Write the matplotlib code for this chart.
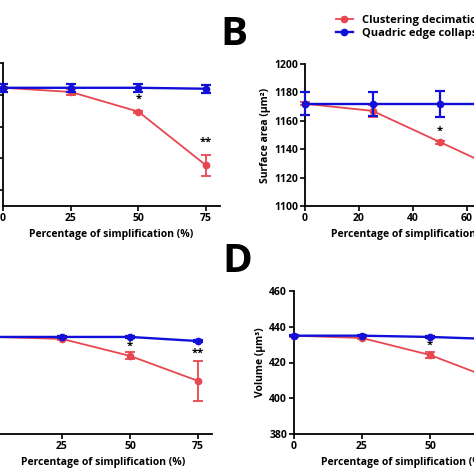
import matplotlib
matplotlib.use("Agg")
import matplotlib.pyplot as plt
from matplotlib.lines import Line2D

W, H = 474, 474
RED = "#E8474F"
BLUE = "#1010D8"

plt.rcParams["font.family"] = ["Open Sans", "DejaVu Sans"]
plt.rcParams["font.weight"] = "bold"

x = [0, 25, 50, 75]

# panel A (y axis labels fall outside the visible crop)
a_clu = [0.922, 0.909, 0.847, 0.678]
a_clu_err = [0.003, 0.010, 0.003, 0.034]
a_qec = [0.922, 0.922, 0.922, 0.919]
a_qec_err = [0.012, 0.012, 0.012, 0.012]
a_stars = {50: (0.8875, "*"), 75: (0.75, "**")}

# panel B: surface area
b_clu = [1172, 1167, 1145, 1123]
b_clu_err = [1, 4, 1, 4]
b_qec = [1172, 1172, 1172, 1172]
b_qec_err = [8, 8.5, 9, 8]
b_stars = {50: (1153, "*")}

# panel C
c_clu = [434.3, 433.2, 423.7, 409.7]
c_clu_err = [0.5, 0.8, 2.0, 11.3]
c_qec = [434.3, 434.3, 434.3, 432.0]
c_qec_err = [0.4, 0.4, 0.4, 0.4]
c_stars = {50: (429.3, "*"), 75: (425.4, "**")}

# panel D: volume
d_clu = [435.0, 433.7, 424.2, 409.7]
d_clu_err = [0.5, 0.8, 1.5, 5.0]
d_qec = [435.0, 435.0, 434.3, 433.0]
d_qec_err = [0.4, 0.4, 0.4, 0.4]
d_stars = {50: (429.8, "*")}

fig = plt.figure(figsize=(W / 100, H / 100), dpi=100)


def px_axes(left, top, right, bottom):
    return fig.add_axes([left / W, 1 - bottom / H, (right - left) / W, (bottom - top) / H])


def panel(ax, clu, clu_err, qec, qec_err, stars, ylim, yticks, xticks,
          ylabel=None, show_yticklabels=True):
    ax.errorbar(x, clu, yerr=clu_err, color=RED, marker="o", markersize=4.5,
                lw=1.3, capsize=3.5, capthick=1.3, elinewidth=1.3, zorder=3,
                clip_on=False)
    ax.errorbar(x, qec, yerr=qec_err, color=BLUE, marker="o", markersize=4.5,
                lw=1.7, capsize=3.5, capthick=1.6, elinewidth=1.6, zorder=4,
                clip_on=False)
    for xs, (ys, s) in stars.items():
        ax.text(xs, ys, s, ha="center", va="center", fontsize=8, color="black")
    ax.set_xlim(0, 80)
    ax.set_ylim(*ylim)
    ax.set_xticks(xticks)
    ax.set_yticks(yticks)
    for s in ["top", "right"]:
        ax.spines[s].set_visible(False)
    for s in ["left", "bottom"]:
        ax.spines[s].set_linewidth(1.3)
    ax.tick_params(direction="out", length=3.5, width=1.2, labelsize=7.5, pad=1.5,
                   labelleft=show_yticklabels)
    for lab in ax.get_xticklabels() + ax.get_yticklabels():
        lab.set_fontweight("bold")
    ax.set_xlabel("Percentage of simplification (%)", fontsize=7.5,
                  fontweight="bold", labelpad=4)
    if ylabel:
        ax.set_ylabel(ylabel, fontsize=7.5, fontweight="bold", labelpad=2)


ax_a = px_axes(3, 63, 3 + 80 * 2.707, 206)
panel(ax_a, a_clu, a_clu_err, a_qec, a_qec_err, a_stars,
      (0.55, 1.0), [0.6, 0.7, 0.8, 0.9, 1.0], [0, 25, 50, 75],
      show_yticklabels=False)

ax_b = px_axes(305, 64, 305 + 80 * 2.7, 206)
panel(ax_b, b_clu, b_clu_err, b_qec, b_qec_err, b_stars,
      (1100, 1200), [1100, 1120, 1140, 1160, 1180, 1200], [0, 20, 40, 60, 80],
      ylabel="Surface area (µm²)")

ax_c = px_axes(-6, 291, -6 + 80 * 2.72, 434)
panel(ax_c, c_clu, c_clu_err, c_qec, c_qec_err, c_stars,
      (380, 460), [380, 400, 420, 440, 460], [25, 50, 75],
      show_yticklabels=False)

ax_d = px_axes(294, 291, 294 + 80 * 2.72, 434)
panel(ax_d, d_clu, d_clu_err, d_qec, d_qec_err, d_stars,
      (380, 460), [380, 400, 420, 440, 460], [0, 25, 50, 75],
      ylabel="Volume (µm³)")

fig.text(220 / W, 1 - 45 / H, "B", fontsize=29, fontweight="bold", ha="left", va="baseline")
fig.text(222 / W, 1 - 272 / H, "D", fontsize=29, fontweight="bold", ha="left", va="baseline")

handles = [
    Line2D([], [], color=RED, marker="o", markersize=4.5, lw=1.3),
    Line2D([], [], color=BLUE, marker="o", markersize=4.5, lw=1.7),
]
fig.legend(handles, ["Clustering decimation", "Quadric edge collapse"],
           loc="upper left", bbox_to_anchor=(336 / W, 1 - 15 / H),
           frameon=False, fontsize=8, handlelength=1.5, handletextpad=0.8,
           labelspacing=0.2, borderpad=0, borderaxespad=0)

fig.savefig("out.png", dpi=100)
